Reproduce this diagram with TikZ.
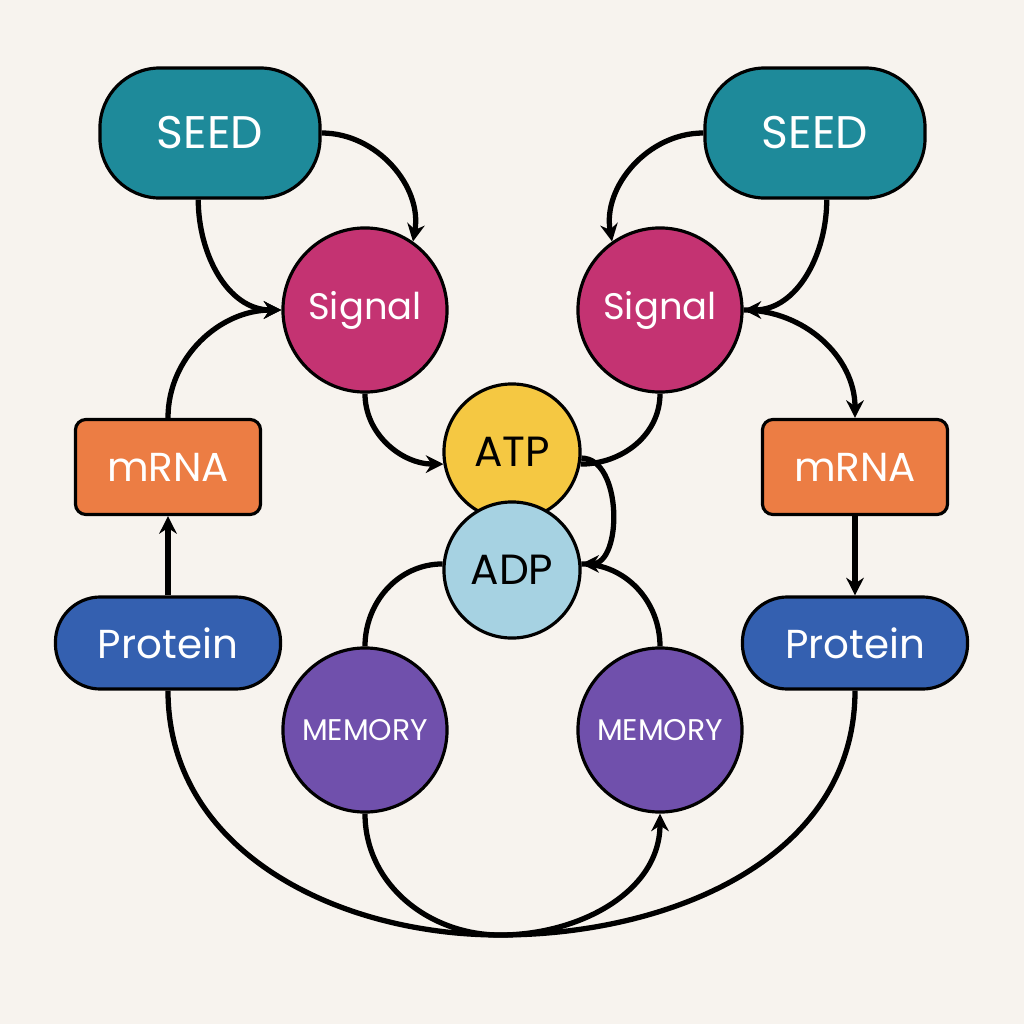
\documentclass[tikz,border=0pt]{standalone}
\usepackage{fontspec}
\setmainfont{Poppins}
\usetikzlibrary{arrows.meta}
\definecolor{bg}{HTML}{F7F3EE}
\definecolor{seedc}{HTML}{1E8A9A}
\definecolor{sigc}{HTML}{C43372}
\definecolor{atpc}{HTML}{F5C842}
\definecolor{adpc}{HTML}{A6D2E2}
\definecolor{rnac}{HTML}{EC7D44}
\definecolor{protc}{HTML}{3460B0}
\definecolor{memc}{HTML}{7050AC}
\tikzstyle{line} = [line width=1.5pt, -]
\tikzstyle{arrow} = [line width=1.5pt, -{Stealth[length=5pt,width=5pt]}]
\tikzstyle{pill} = [draw, line width=0.9pt, rounded corners=0.6cm, text=white]
\tikzstyle{ball} = [draw, circle, line width=0.9pt, minimum size=1.64cm, inner sep=0pt]

\begin{document}
\begin{tikzpicture}[x=0.01cm, y=-0.01cm]
        \fill[bg] (0,0) rectangle (1024,1024);
        \useasboundingbox (0,0) rectangle (1024,1024);

        % Nodes
        \node[pill, fill=seedc, minimum width=2.2cm, minimum height=1.3cm, font=\fontsize{13}{13}\selectfont] (seedl) at (210,133) {SEED};
        \node[pill, fill=seedc, minimum width=2.2cm, minimum height=1.3cm, font=\fontsize{13}{13}\selectfont] (seedr) at (815,133) {SEED};
        \node[ball, fill=sigc, text=white, font=\fontsize{10.5}{10.5}\selectfont] (sigl) at (365,310) {Signal};
        \node[ball, fill=sigc, text=white, font=\fontsize{10.5}{10.5}\selectfont] (sigr) at (660,310) {Signal};
        \node[ball, fill=atpc, minimum size=1.36cm, font=\fontsize{12}{12}\selectfont] (atp) at (512,452) {ATP};
        \node[ball, fill=adpc, minimum size=1.36cm, font=\fontsize{12}{12}\selectfont] (adp) at (512,570) {ADP};
        \node[draw, line width=0.9pt, rounded corners=3pt, fill=rnac, text=white, minimum width=1.85cm, minimum height=0.95cm, font=\fontsize{11.5}{11.5}\selectfont] (rnal) at (168,467) {mRNA};
        \node[draw, line width=0.9pt, rounded corners=3pt, fill=rnac, text=white, minimum width=1.85cm, minimum height=0.95cm, font=\fontsize{11.5}{11.5}\selectfont] (rnar) at (855,467) {mRNA};
        \node[pill, fill=protc, rounded corners=0.45cm, minimum width=2.25cm, minimum height=0.92cm, font=\fontsize{11.5}{11.5}\selectfont] (protl) at (168,643) {Protein};
        \node[pill, fill=protc, rounded corners=0.45cm, minimum width=2.25cm, minimum height=0.92cm, font=\fontsize{11.5}{11.5}\selectfont] (protr) at (855,643) {Protein};
        \node[ball, fill=memc, text=white, font=\fontsize{8.5}{8.5}\selectfont] (meml) at (365,730) {MEMORY};
        \node[ball, fill=memc, text=white, font=\fontsize{8.5}{8.5}\selectfont] (memr) at (660,730) {MEMORY};
        \coordinate (low) at (500,935);

        % Draw Arrows
        \draw[arrow] (seedl.east) to[out=0, in=80] (sigl.55);
        \draw[arrow] (seedl.-100) to[out=-90, in=180] (sigl.180);
        \draw[arrow] (rnal.north) to[out=90, in=180] (sigl.180);
        \draw[arrow] (protl.north) -- (rnal.south);
        \draw[arrow] (sigl.south) to[out=-90, in=180] (atp.190);
        \draw[line] (sigr.south) to[out=-90, in=0] (atp.-10);
        \draw[arrow] (atp.-5) to[out=0, in=0] (adp.5);

        \draw[arrow] (seedr.west) to[out=180, in=100] (sigr.125);
        \draw[arrow] (seedr.-80) to[out=-90, in=0] (sigr.0);
        \draw[arrow] (sigr.0) to[out=0, in=90] (rnar.north);
        \draw[arrow] (rnar.south) -- (protr.north);

        \draw[line] (adp.175) to[out=180, in=90] (meml.north);
        \draw[line] (adp.5) to[out=0, in=90] (memr.north);

        \draw[line] (protl.south) to[out=-90, in=180] (low) to[out=0, in=-90] (protr.south);
        \draw[arrow] (meml.south) to[out=-90, in=180] (low) to[out=0, in=-90] (memr.south);
\end{tikzpicture}
\end{document}
